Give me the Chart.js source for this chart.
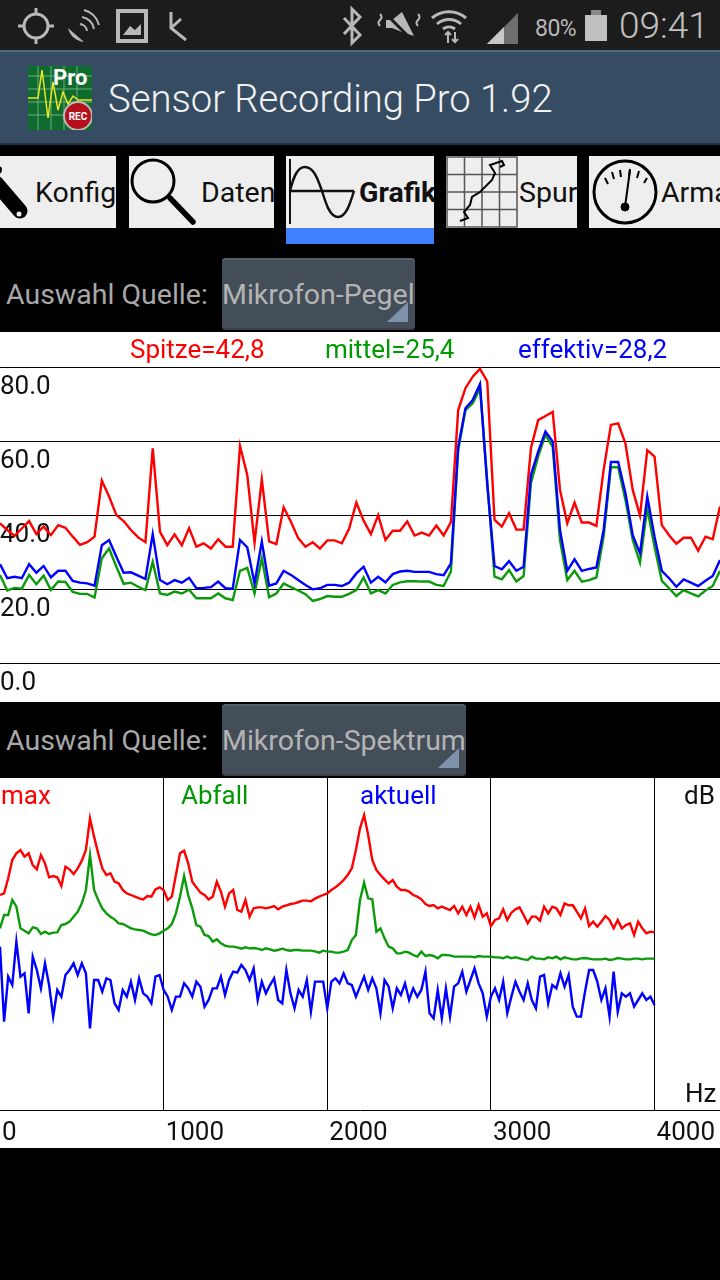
<!DOCTYPE html>
<html>
<head>
<meta charset="utf-8">
<title>Sensor Recording Pro</title>
<script src="https://cdn.jsdelivr.net/npm/chart.js@4"></script>
<style>
  html, body { margin: 0; padding: 0; background: #000; }
  #page { position: relative; width: 720px; height: 1280px; overflow: hidden; background: #000; font-family: Roboto, sans-serif; }
  #page > * { position: absolute; }
  .txt { white-space: nowrap; line-height: 1; }
  .tile { background: #eeeeee; top: 156px; height: 72px; overflow: hidden; }
  .tile svg { position: absolute; left: 0; top: 0; }
  .tile span { position: absolute; top: 23px; font-size: 28.5px; line-height: 1; color: #111; white-space: nowrap; }
  .spin { background: #444e59; border-radius: 4px; top: 258px; height: 72px; box-shadow: inset 0 2px 0 #56606c, inset 0 -2px 0 #39424c; }
  .spin span { position: absolute; left: 0; top: 23px; font-size: 28.5px; line-height: 1; color: #b4b4b4; white-space: nowrap; }
  .spin i { position: absolute; right: 7px; bottom: 8px; width: 0; height: 0; border-left: 21px solid transparent; border-bottom: 20px solid #7f92ab; }
  .pick { left: 6px; font-size: 28.5px; color: #a8a8a8; }
  canvas { display: block; }
</style>
</head>
<body>
<div id="page">
  <div style="left:0;top:0;width:720px;height:50px;background:#1c1c1c"></div>
  <svg style="left:0;top:0" width="720" height="50" fill="none" stroke="#b8b8b8" stroke-width="3">
    <circle cx="36" cy="26" r="12"/><path d="M36 8v6M36 38v6M18 26h6M48 26h6"/>
    <path d="M68 28a18 18 0 0 0 16 14z" fill="#b8b8b8" stroke="none"/><path d="M80 24a8 8 0 0 1 7 7M82 17a14 14 0 0 1 12 12M84 10a20 20 0 0 1 15 15" stroke-width="2"/>
    <rect x="118" y="11" width="28" height="30" stroke-width="4"/><path d="M123 35l7-9 5 4 6-6v11z" fill="#b8b8b8" stroke="none"/>
    <path d="M171 12v16l15 12M171 28l10-9" stroke-width="3"/>
    <path d="M344 18l16 17-8 8V9l8 8-16 17" stroke-width="3"/>
    <path d="M386 20h6l10-8 12 24-12-4-10-4h-6z" fill="#b8b8b8" stroke="none"/><path d="M384 12l28 28" stroke="#1c1c1c" stroke-width="3"/><path d="M380 14q3 3 0 6t0 6M418 14q3 3 0 6t0 6" stroke-width="2"/>
    <path d="M432 18a26 26 0 0 1 34 0M437 24a18 18 0 0 1 24 0M443 29a10 10 0 0 1 12 0" stroke-width="3"/>
    <path d="M445 35l3-3 3 3M448 33v10M452 39l3 3 3-3M455 42V32" stroke-width="2"/>
    <path d="M487 44l31-31v31z" fill="#6e6e6e" stroke="none"/><path d="M487 44l17-17v17z" fill="#c8c8c8" stroke="none"/>
    <rect x="585" y="15" width="22" height="26" fill="#c0c0c0" stroke="none"/><rect x="591" y="10" width="10" height="5" fill="#8a8a8a" stroke="none"/>
  </svg>
  <div class="txt" style="left:535px;top:17px;font-size:23px;color:#b8b8b8;letter-spacing:-0.5px">80%</div>
  <div class="txt" style="left:619px;top:7px;font-size:37px;font-weight:300;color:#c0c0c0">09:41</div>

  <div style="left:0;top:50px;width:720px;height:95px;background:#364c62;box-shadow:inset 0 2px 0 #4f6880, inset 0 -2px 0 #22303e"></div>
  <svg style="left:28px;top:66px" width="64" height="64">
    <rect width="64" height="64" fill="#0f6b2e"/>
    <path d="M0 10h64M0 23h64M0 36h64M0 49h64M10 0v64M23 0v64M36 0v64M49 0v64" stroke="#6fae7e" stroke-width="1"/>
    <path d="M0 32h10l4-28 6 48 5-36 5 28 5-18 5 12 5-8 5 4h14" fill="none" stroke="#e8e820" stroke-width="1.5"/>
    <text x="25" y="19" font-family="Roboto" font-weight="700" font-size="22" fill="#fff">Pro</text>
    <circle cx="50" cy="50" r="15" fill="#bbb"/><circle cx="50" cy="50" r="13" fill="#b5101c"/>
    <text x="50" y="54" text-anchor="middle" font-family="Roboto" font-weight="700" font-size="10" fill="#fff">REC</text>
  </svg>
  <div class="txt" style="left:108px;top:80px;font-size:38.2px;font-weight:300;color:#f2f2f2">Sensor Recording Pro 1.92</div>

  <div class="tile" style="left:0;width:116px">
    <svg width="116" height="72" fill="none" stroke="#000"><path d="M-4 27L20 55" stroke-width="15" stroke-linecap="round"/><circle cx="19" cy="58" r="2.5" fill="#eee" stroke="none"/><circle cx="-2" cy="14" r="4" fill="#000" stroke="none"/></svg>
    <span style="left:35px">Konfig</span>
  </div>
  <div class="tile" style="left:129px;width:145px">
    <svg width="145" height="72" fill="none" stroke="#000"><circle cx="24" cy="25" r="21" stroke-width="3"/><path d="M41 42L64 66" stroke-width="5.5" stroke-linecap="round"/></svg>
    <span style="left:72px">Daten</span>
  </div>
  <div class="tile" style="left:286px;width:148px">
    <svg width="148" height="72" fill="none" stroke="#111"><path d="M4 3v65" stroke-width="2"/><path d="M4 35h64" stroke-width="2.5"/><path d="M4 35C8 19 12 11 19 11C28 11 32 24 36 35C40 48 44 61 52 61C60 61 64 48 68 35" stroke-width="2.5"/></svg>
    <span style="left:73px;font-weight:700">Grafik</span>
  </div>
  <div style="left:286px;top:228px;width:148px;height:16px;background:#4080ff"></div>
  <div class="tile" style="left:446px;width:131px">
    <svg width="131" height="72" fill="none" stroke="#555"><path d="M1 1h70v70H1zM1 18.500h70M1 36h70M1 53.500h70M18.500 1v70M36 1v70M53.500 1v70" stroke-width="1.5"/><path d="M14 65l8-3-4-6 6-7 2-8 8-5 12-12 3-7-5-8 12-4 2 4-4 2" stroke="#000" stroke-width="2"/></svg>
    <span style="left:73px">Spur</span>
  </div>
  <div class="tile" style="left:589px;width:131px">
    <svg width="131" height="72" fill="none" stroke="#000"><circle cx="36" cy="36" r="31" stroke-width="3"/><path d="M36 51L41 14" stroke-width="2"/><circle cx="36" cy="51" r="4" fill="#000"/><path d="M16 22l3 6M23 16l2 7M31 14l1 7M41 13l-1 7M50 15l-2 7M58 22l-3 5" stroke-width="2"/></svg>
    <span style="left:72px">Arma</span>
  </div>

  <div class="txt pick" style="top:281px">Auswahl Quelle:</div>
  <div class="spin" style="left:222px;width:193px"><span>Mikrofon-Pegel</span><i></i></div>

  <canvas id="pegel" width="720" height="370" style="left:0;top:332px"></canvas>
  <div class="txt" style="left:130px;top:336px;font-size:26px;color:#f00">Spitze=42,8</div>
  <div class="txt" style="left:325px;top:336px;font-size:26px;color:#090">mittel=25,4</div>
  <div class="txt" style="left:518px;top:336px;font-size:26px;color:#00f">effektiv=28,2</div>

  <div class="txt pick" style="top:727px">Auswahl Quelle:</div>
  <div class="spin" style="left:222px;width:244px;top:704px"><span>Mikrofon-Spektrum</span><i></i></div>

  <canvas id="spektrum" width="720" height="370" style="left:0;top:778px"></canvas>
  <div class="txt" style="left:1px;top:782px;font-size:26px;color:#f00">max</div>
  <div class="txt" style="left:181px;top:782px;font-size:26px;color:#090">Abfall</div>
  <div class="txt" style="left:360px;top:782px;font-size:26px;color:#00f">aktuell</div>
  <div class="txt" style="left:684px;top:782px;font-size:26px;color:#111">dB</div>
  <div class="txt" style="left:685px;top:1080px;font-size:26px;color:#111">Hz</div>
</div>

<script>
const pegelTicks = [0, 20, 40, 60, 80];
const spitze = [37.9,36.1,34.5,36.5,38.5,35.0,37.0,34.7,37.4,36.7,34.3,32.1,32.8,34.3,49.4,45.1,40.1,38.5,36.1,34.1,32.8,58.1,35.6,32.0,34.9,32.0,36.6,31.6,32.5,31.1,33.6,31.6,31.6,58.7,50.9,32.7,49.7,33.0,32.3,42.2,38.3,33.9,31.6,32.8,31.1,33.3,33.3,32.5,36.4,43.5,
  38.6,35.0,40.1,33.4,35.9,35.9,38.4,34.6,35.4,34.6,37.3,34.6,38.2,68.4,74.3,77.4,79.5,76.1,38.8,37.0,40.6,36.2,36.2,58.1,65.7,66.8,67.9,46.9,37.9,43.5,38.1,38.1,37.2,52.3,64.4,64.8,59.4,46.9,40.0,57.6,55.9,37.4,34.7,32.4,34.0,34.0,30.5,34.3,33.6,42.4];
const mittel = [24.0,19.8,20.5,20.3,24.0,21.5,23.8,19.9,22.2,22.1,19.4,18.9,18.9,17.9,28.5,31.1,26.2,21.6,21.9,20.8,19.9,27.5,19.0,18.6,19.5,19.0,20.0,17.7,17.7,17.7,19.0,17.7,17.2,25.1,25.9,19.0,28.5,18.0,19.0,21.7,20.7,19.8,18.8,17.0,17.5,18.3,18.1,18.1,18.9,19.9,
  23.3,19.0,19.9,19.0,21.3,22.0,22.3,22.3,22.2,22.2,21.3,21.0,24.9,57.6,68.4,70.2,74.3,49.1,23.5,22.8,25.3,22.2,23.7,48.7,55.9,61.7,58.5,33.4,22.6,25.1,22.2,22.6,23.3,34.3,53.0,53.0,44.2,33.4,27.3,41.9,31.6,22.4,20.4,18.3,19.9,19.0,18.2,19.8,21.0,25.1];
const effektiv = [26.9,23.1,23.5,23.1,26.9,24.6,26.4,23.3,25.1,25.1,22.4,21.9,21.7,21.1,32.0,33.4,28.9,24.6,24.7,23.8,22.9,35.0,22.6,21.5,22.6,21.9,23.2,20.4,20.5,20.7,22.2,20.4,20.3,33.4,31.4,21.7,33.0,21.1,21.7,25.1,24.0,22.6,21.3,20.1,20.4,21.3,21.3,21.0,21.9,24.4,
  26.2,21.9,23.5,22.0,24.2,24.9,25.1,24.8,24.8,24.8,24.2,23.9,27.1,58.5,68.9,71.1,75.4,48.2,26.4,25.5,27.7,25.1,26.2,50.9,57.2,62.6,59.9,36.1,25.1,28.2,25.1,25.6,26.0,36.1,54.4,54.4,46.0,34.7,29.8,45.1,34.3,25.1,23.1,20.8,22.8,21.9,21.0,22.4,23.7,28.0];

const hzTicks = [0, 1000, 2000, 3000, 4000];
const hzStep = 25;
const specMax = [64.5,65,69.5,75,77,78,76,77,73.5,72.2,76.5,74,69.8,70.2,69.8,67.2,73,72.2,70.8,72.5,74.8,78,87.5,82,77,72.5,70.5,71,68.5,68,66,65,64.5,64,63.5,63.2,64.2,64,66.2,66.8,66,63,64,70.5,77,77.8,74,68.5,66.8,65.2,64.5,63.2,64,68.5,65.5,61,65,66,60,59.5,63,58,60.5,60.8,60.8,60.5,60.8,61.2,60.2,61,61.4,61.8,62,62.4,62.8,62.8,62.6,63.4,64,64.5,65,
  66,66.8,67.8,69,70.5,72.5,78,84.5,88.5,82.5,75,72,70.5,69.2,68,69,67,66,66,65.5,64.5,64,63.2,61.8,61.2,61.5,60.5,61,60.5,60,61.2,59,61,58.5,61,57.8,61.5,58,59,55.2,57,57.5,60.2,57,59.2,60.2,60.8,58.5,56,58,58,56.8,61,59,61,60.5,58.5,62,61.4,61.5,59.5,57.5,60.5,55.2,56.5,55,56.5,58.2,57,54.5,57,54.5,55.5,56,52.5,56.5,54.5,53,53.5,53.3];
const specAbfall = [54.5,58.5,58.5,63,61,54.5,53.8,53,54.8,54.5,52.8,53.5,52.8,53.2,53.3,55.5,55.8,56.5,58,59.5,62,66,76.5,66,63,60.5,59,58,57.2,56,55.8,55.2,54.5,54.2,54,53.8,53.2,52.7,52.5,53,53.8,54.5,55.8,59,64,70.2,64.5,60.5,55.5,55,52.5,52.2,50.5,51.2,50,49.3,49,49,48.8,48.4,48.8,48.5,48.6,48.4,48,48.5,48.2,47.8,48,48.4,48,47.8,48,48,47.8,47.8,47.8,47.6,47.2,47.8,47.5,
  47.5,47.2,47.2,47.5,48,51,52.5,63,68.2,63.5,63.2,53.5,54.5,51.5,49,48.5,47,47,47.5,47.2,46.5,46,47.5,46.2,46.5,46.2,45.5,46.5,46.5,46.4,46,46,46,46,46,45.8,46.2,46,46,46,45.8,45.8,45.5,46,45.5,45.8,45.5,45.2,45,46,45.4,45.4,45.2,45.8,45.5,46,45.2,45.8,45.5,45.2,45.2,45.5,45.6,45.4,45.2,45.2,45.2,45.4,45,45.2,45.6,45.4,45.2,45.2,45.4,45.4,45.2,45.4,45.4,45.4];
const specAktuell = [49,26.5,40,37.5,50.5,40,41,29,46,42,36.5,44,37.5,28,36,34,40.5,42,44,40.5,44,41,24.5,39,39,35.5,39.5,39,32,30,36,34,38.5,33,39.5,35,34,32,40,40.5,36,34,30,34,34,38,36.5,34,38.5,37,31,33,36.5,36.5,40,34.5,39,41.5,41.2,43.5,42,39,42.5,33,38.5,35,37.5,39.5,33,32,42,35,30.5,36,34,39,29.5,38.5,38.5,38.5,30.5,
  38.5,39.5,38,41,38,37.5,34,37,40,36,39.5,36.5,29,39,37,30.5,36.5,34.5,38,33,36.5,34,36,41.5,29,27.5,36,27.5,36.5,28,37,38,41.5,35.5,39,42.5,38,35,28,34,36.5,33,38.5,29,34,38.5,35.5,33,38,33,30.5,40,40.5,32,37.5,36.5,41,37,40.5,31,28,28,35.5,42,42,38.5,33,36.5,28,41.5,29.5,35,34,35,31,33,35,33,34,31.5];

const ROT = "#ff0000";
const GRUEN = "#0a9a0a";
const BLAU = "#0000ff";

function lineSet(label, data, color, order) {
  return {
    label: label,
    data: data,
    borderColor: color,
    borderWidth: 2.4,
    pointRadius: 0,
    tension: 0,
    order: order,
  };
}

function setTicks(values) {
  return (scale) => {
    scale.ticks = values.map((v) => ({ value: v }));
  };
}

// the scales reserve room for half a tick label, the app draws edge to edge
function noScalePadding(scale) {
  scale.paddingTop = 0;
  scale.paddingBottom = 0;
  scale.paddingLeft = 0;
  scale.paddingRight = 0;
}

function whiteBack() {
  return {
    id: "whiteBack",
    beforeDraw(chart) {
      const c = chart.ctx;
      c.save();
      c.fillStyle = "#fff";
      c.fillRect(0, 0, chart.width, chart.height);
      c.restore();
    },
  };
}

new Chart(document.getElementById("pegel").getContext("2d"), {
  type: "line",
  data: {
    labels: spitze.map((_, i) => i),
    datasets: [
      lineSet("Spitze", spitze, ROT, 3),
      lineSet("mittel", mittel, GRUEN, 2),
      lineSet("effektiv", effektiv, BLAU, 1),
    ],
  },
  options: {
    responsive: false,
    devicePixelRatio: 1,
    animation: false,
    layout: { padding: 0, autoPadding: false },
    plugins: {
      legend: { display: false },
      tooltip: { enabled: false },
    },
    scales: {
      x: { display: false },
      y: {
        bounds: "data",
        min: -10.24,
        max: 89.43,
        afterBuildTicks: setTicks(pegelTicks),
        afterFit: noScalePadding,
        border: { display: false },
        grid: { color: "#000", lineWidth: 1, drawTicks: false },
        ticks: {
          mirror: true,
          padding: 0,
          labelOffset: 20,
          color: "#111",
          font: { family: "Roboto", size: 26 },
          callback: (v) => v.toFixed(1),
        },
      },
    },
  },
  plugins: [whiteBack()],
});

new Chart(document.getElementById("spektrum").getContext("2d"), {
  type: "line",
  data: {
    datasets: [
      lineSet("max", specMax.map((y, i) => ({ x: i * hzStep, y: y })), ROT, 3),
      lineSet("Abfall", specAbfall.map((y, i) => ({ x: i * hzStep, y: y })), GRUEN, 2),
      lineSet("aktuell", specAktuell.map((y, i) => ({ x: i * hzStep, y: y })), BLAU, 1),
    ],
  },
  options: {
    responsive: false,
    devicePixelRatio: 1,
    animation: false,
    layout: { padding: 0, autoPadding: false },
    plugins: {
      legend: { display: false },
      tooltip: { enabled: false },
    },
    scales: {
      x: {
        type: "linear",
        bounds: "data",
        min: 0,
        max: 4400,
        afterBuildTicks: setTicks(hzTicks),
        border: { display: true, color: "#000", width: 1 },
        grid: {
          color: (ctx) => (ctx.tick && ctx.tick.value === 0 ? "transparent" : "#000"),
          lineWidth: 1,
          drawTicks: false,
        },
        ticks: {
          autoSkip: false,
          maxRotation: 0,
          align: "start",
          labelOffset: 2,
          padding: 8,
          color: "#111",
          font: { family: "Roboto", size: 26 },
          callback: (v) => String(v),
        },
        afterFit: (scale) => {
          noScalePadding(scale);
          scale.height = 38;
        },
      },
      y: {
        display: false,
        min: 0,
        max: 99.6,
      },
    },
  },
  plugins: [whiteBack()],
});
</script>
</body>
</html>
